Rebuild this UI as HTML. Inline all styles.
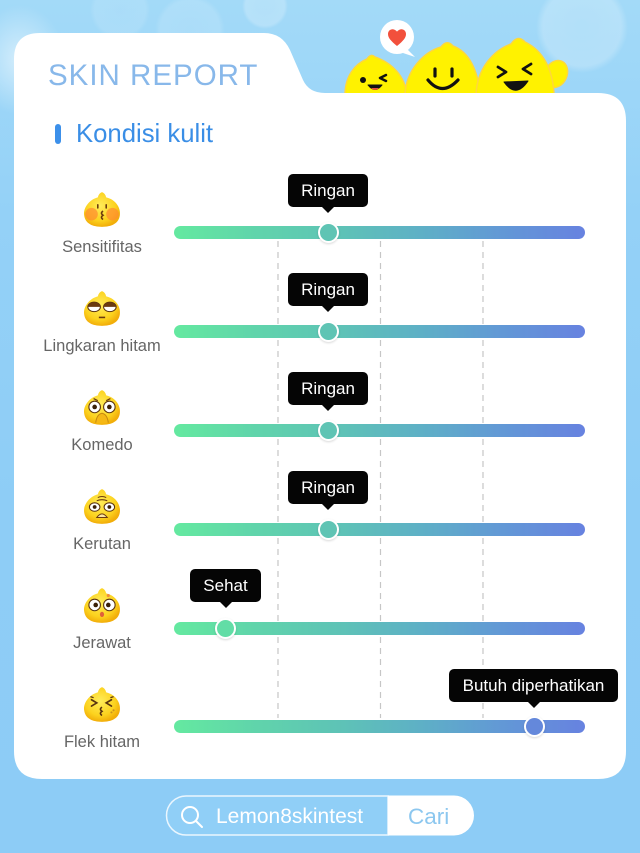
<!DOCTYPE html>
<html><head><meta charset="utf-8"><style>
*{margin:0;padding:0;box-sizing:border-box}
html,body{width:640px;height:853px;overflow:hidden}
body{position:relative;background:linear-gradient(180deg,#a3daf8 0%,#94d1f7 25%,#8ecdf6 60%,#8dccf6 100%);font-family:"Liberation Sans",sans-serif}
.abs{position:absolute}
.title{left:48px;top:58px;font-size:29.5px;letter-spacing:1px;color:#88b8ea;line-height:36px}
.bar{left:55px;top:124px;width:6px;height:20px;border-radius:3px;background:#3c90ea}
.kond{left:76px;top:118px;font-size:25.7px;color:#3a8ee6;line-height:32px}
.track{left:174px;width:411px;height:13px;border-radius:7px;background:linear-gradient(90deg,#64e9a0 0%,#60d4ab 20%,#5ec3b6 40%,#5eb0c6 60%,#6298d6 80%,#6782e0 100%)}
.knob{width:21px;height:21px;border-radius:50%;border:2px solid #fff;box-shadow:0 1px 2px rgba(0,0,0,.15)}
.tip{height:33px;background:#050505;border-radius:5px;color:#fff;font-size:17px;line-height:33px;text-align:center}
.tip:after{content:"";position:absolute;left:50%;margin-left:-6px;bottom:-6px;border-left:6px solid transparent;border-right:6px solid transparent;border-top:6px solid #050505}
.lbl{width:160px;left:22px;text-align:center;font-size:16.5px;color:#666;line-height:20px}
.emo{left:81px;width:42px;height:39px}
</style></head><body>
<svg class="abs" style="left:0;top:0" width="640" height="853" viewBox="0 0 640 853">
<defs>
<radialGradient id="haze" cx="0.5" cy="0.5" r="0.5"><stop offset="0" stop-color="#fff" stop-opacity=".55"/><stop offset="1" stop-color="#fff" stop-opacity="0"/></radialGradient>
<radialGradient id="bub" cx="0.5" cy="0.5" r="0.5"><stop offset="0" stop-color="#fff" stop-opacity=".18"/><stop offset=".85" stop-color="#fff" stop-opacity=".22"/><stop offset="1" stop-color="#fff" stop-opacity="0"/></radialGradient>
</defs>
<ellipse cx="20" cy="60" rx="45" ry="55" fill="url(#haze)"/>
<circle cx="265" cy="6" r="23" fill="url(#bub)"/>
<circle cx="190" cy="30" r="35" fill="url(#bub)" opacity=".6"/>
<circle cx="582" cy="27" r="46" fill="url(#bub)"/>
<circle cx="120" cy="10" r="30" fill="url(#bub)" opacity=".5"/>
<!-- lemons -->
<g stroke="#ffd83a" stroke-width="1.5" fill="#fff200">
<path d="M345,95 C345,76 355,64 367,59 Q371,53 375,57 C392,63 405,76 407,95 Z"/>
<path d="M405,95 C406,70 424,52 441,47 Q447,39 453,46 C469,52 478,70 480,95 Z"/>
<ellipse cx="556" cy="74" rx="11" ry="14" transform="rotate(25 556 74)"/>
<path d="M476,95 C477,68 494,50 511,44 Q518,34 525,42 C542,50 553,68 554,95 Z"/>
</g>
<g fill="#111" stroke="#111" stroke-linecap="round" stroke-linejoin="round">
<circle cx="363" cy="80" r="3" stroke="none"/>
<path d="M386,75 L380,78 L386,81" fill="none" stroke-width="2.5"/>
<path d="M368,85 Q375,94 382,85 Z" stroke-width="1"/>
<path d="M371,88 Q375,92 379,88 Z" fill="#e8503a" stroke="none"/>
<path d="M435,69 L435,76 M452,69 L452,76" stroke-width="3.2" fill="none"/>
<path d="M428,80 Q442,97 458,80" stroke-width="3.2" fill="none"/>
<path d="M498,67 L506,72 L498,77" stroke-width="2.8" fill="none"/>
<path d="M531,64 L523,69 L531,74" stroke-width="2.8" fill="none"/>
<path d="M504,82 Q516,99 528,81 Z" stroke-width="1"/>
</g>
<!-- speech bubble -->
<circle cx="397" cy="37" r="17" fill="#fff"/>
<path d="M406,48 L415,57 L403,53 Z" fill="#fff"/>
<path d="M397,46 C391,41 388,38 388,34 C388,30 392,28 395,30 Q397,31 397,32 Q397,31 399,30 C402,28 406,30 406,34 C406,38 403,41 397,46 Z" fill="#f2503c"/>
<!-- card -->
<path d="M40,33 L264,33 Q282,33 290,50 L303,80 Q309,93 325,93 L598,93 Q626,93 626,121 L626,751 Q626,779 598,779 L42,779 Q14,779 14,751 L14,59 Q14,33 40,33 Z" fill="#fff"/>
<!-- dashed lines -->
<g stroke="#c6c6c6" stroke-width="1.2" stroke-dasharray="6 5">
<line x1="278" y1="241" x2="278" y2="718"/>
<line x1="380.5" y1="241" x2="380.5" y2="718"/>
<line x1="483" y1="241" x2="483" y2="718"/>
</g>
<!-- search -->
<path d="M186,796 L388,796 L388,835 L186,835 A19.5,19.5 0 0 1 186,796 Z" fill="#90cff7" stroke="#eaf6fe" stroke-width="1.5"/>
<path d="M388,795.5 L454,795.5 A20,20 0 0 1 454,835.5 L388,835.5 Z" fill="#fff"/>
<circle cx="190" cy="815" r="8" fill="none" stroke="#fff" stroke-width="2"/>
<line x1="196" y1="821" x2="202" y2="827" stroke="#fff" stroke-width="2" stroke-linecap="round"/>
<text x="216" y="823" font-family="Liberation Sans, sans-serif" font-size="21" fill="#fff">Lemon8skintest</text>
<text x="408" y="824" font-family="Liberation Sans, sans-serif" font-size="22.5" fill="#8cc7ef">Cari</text>
</svg>

<div class="abs title">SKIN REPORT</div>
<div class="abs bar"></div>
<div class="abs kond">Kondisi kulit</div>

<!-- emoji defs -->
<svg width="0" height="0" style="position:absolute">
<defs>
<radialGradient id="eg" cx="0.45" cy="0.4" r="0.6"><stop offset="0" stop-color="#ffec5a"/><stop offset=".7" stop-color="#fcd21e"/><stop offset="1" stop-color="#f2ae0a"/></radialGradient>
<path id="body" d="M20,2 Q23,3 24,7 C33,9 38,17 37,24 C36,32 29,35 20,35 C11,35 4,32 3,24 C2,17 8,9 16,7 Q17,3 20,2 Z"/>
</defs>
</svg>

<!-- Row 1 -->
<svg class="abs emo" style="top:190px" viewBox="0 0 40 37"><use href="#body" fill="url(#eg)"/><circle cx="10" cy="23" r="6" fill="#ff8a30" opacity=".7"/><circle cx="30" cy="23" r="6" fill="#ff8a30" opacity=".7"/><path d="M16,14 L16,17 M24,14 L24,17" stroke="#6a3a10" stroke-width="1.5" stroke-linecap="round"/><path d="M21,20 Q18,22 21,24 Q18,26 21,28" stroke="#6a3a10" stroke-width="1.5" fill="none"/></svg>
<div class="abs lbl" style="top:237px">Sensitifitas</div>
<div class="abs track" style="top:226px"></div>
<div class="abs knob" style="left:317.5px;top:222px;background:#5fc4b4"></div>
<div class="abs tip" style="left:288px;top:174px;width:80px">Ringan</div>

<!-- Row 2 -->
<svg class="abs emo" style="top:289px" viewBox="0 0 40 37"><use href="#body" fill="url(#eg)"/><ellipse cx="12.5" cy="17" rx="6" ry="4.5" fill="#fff" stroke="#5a3410" stroke-width="1"/><ellipse cx="27.5" cy="17" rx="6" ry="4.5" fill="#fff" stroke="#5a3410" stroke-width="1"/><path d="M6.5,17 A6,4.5 0 0 1 18.5,17 Z M21.5,17 A6,4.5 0 0 1 33.5,17 Z" fill="#6a3a10"/><path d="M17,27 L23,27" stroke="#6a3a10" stroke-width="1.5"/></svg>
<div class="abs lbl" style="top:336px">Lingkaran hitam</div>
<div class="abs track" style="top:325px"></div>
<div class="abs knob" style="left:317.5px;top:321px;background:#5fc4b4"></div>
<div class="abs tip" style="left:288px;top:273px;width:80px">Ringan</div>

<!-- Row 3 -->
<svg class="abs emo" style="top:388px" viewBox="0 0 40 37"><use href="#body" fill="url(#eg)"/><circle cx="13" cy="18" r="5.5" fill="#fff" stroke="#5a3410" stroke-width="1"/><circle cx="27" cy="18" r="5.5" fill="#fff" stroke="#5a3410" stroke-width="1"/><circle cx="13" cy="18" r="2.2" fill="#3a2008"/><circle cx="27" cy="18" r="2.2" fill="#3a2008"/><path d="M12,10 L16,12 M28,10 L24,12" stroke="#6a3a10" stroke-width="1.2"/><path d="M14,33 Q15,25 20,24 Q25,25 26,33" fill="#f5b816" stroke="#c88a10" stroke-width="1"/></svg>
<div class="abs lbl" style="top:435px">Komedo</div>
<div class="abs track" style="top:424px"></div>
<div class="abs knob" style="left:317.5px;top:420px;background:#5fc4b4"></div>
<div class="abs tip" style="left:288px;top:372px;width:80px">Ringan</div>

<!-- Row 4 -->
<svg class="abs emo" style="top:487px" viewBox="0 0 40 37"><use href="#body" fill="url(#eg)"/><ellipse cx="13" cy="19" rx="5" ry="4" fill="#fff" stroke="#5a3410" stroke-width="1"/><ellipse cx="27" cy="19" rx="5" ry="4" fill="#fff" stroke="#5a3410" stroke-width="1"/><circle cx="13" cy="19" r="1.8" fill="#3a2008"/><circle cx="27" cy="19" r="1.8" fill="#3a2008"/><path d="M16,10 Q20,8 24,10 M15,13 Q20,11 25,13" stroke="#6a3a10" stroke-width="1" fill="none"/><path d="M15,29 Q20,22 25,29 Z" fill="#fde6a0" stroke="#6a3a10" stroke-width="1"/></svg>
<div class="abs lbl" style="top:534px">Kerutan</div>
<div class="abs track" style="top:523px"></div>
<div class="abs knob" style="left:317.5px;top:519px;background:#5fc4b4"></div>
<div class="abs tip" style="left:288px;top:471px;width:80px">Ringan</div>

<!-- Row 5 -->
<svg class="abs emo" style="top:586px" viewBox="0 0 40 37"><use href="#body" fill="url(#eg)"/><circle cx="13" cy="18" r="5.5" fill="#fff" stroke="#5a3410" stroke-width="1"/><circle cx="27" cy="18" r="5.5" fill="#fff" stroke="#5a3410" stroke-width="1"/><circle cx="14" cy="18" r="2.2" fill="#3a2008"/><circle cx="26" cy="18" r="2.2" fill="#3a2008"/><circle cx="26" cy="9" r="1.5" fill="#f08a40"/><ellipse cx="20" cy="27" rx="2" ry="2.5" fill="#e0603a"/></svg>
<div class="abs lbl" style="top:633px">Jerawat</div>
<div class="abs track" style="top:622px"></div>
<div class="abs knob" style="left:215px;top:618px;background:#62dda6"></div>
<div class="abs tip" style="left:190px;top:569px;width:71px">Sehat</div>

<!-- Row 6 -->
<svg class="abs emo" style="top:685px" viewBox="0 0 40 37"><use href="#body" fill="url(#eg)"/><path d="M10,14 L15,17 L10,20 M29,14 L24,17 L29,20" stroke="#5a3410" stroke-width="1.6" fill="none" stroke-linecap="round"/><path d="M9,11 L12,12 M31,11 L28,12" stroke="#5a3410" stroke-width="1.2"/><path d="M20,21 Q17,23 20,25 Q17,27 20,29" stroke="#5a3410" stroke-width="1.5" fill="none"/><circle cx="29" cy="26" r="1" fill="#c89020"/><circle cx="31" cy="24" r="1" fill="#c89020"/></svg>
<div class="abs lbl" style="top:732px">Flek hitam</div>
<div class="abs track" style="top:720px"></div>
<div class="abs knob" style="left:523.5px;top:716px;background:#6488db"></div>
<div class="abs tip" style="left:449px;top:669px;width:169px">Butuh diperhatikan</div>
</body></html>
